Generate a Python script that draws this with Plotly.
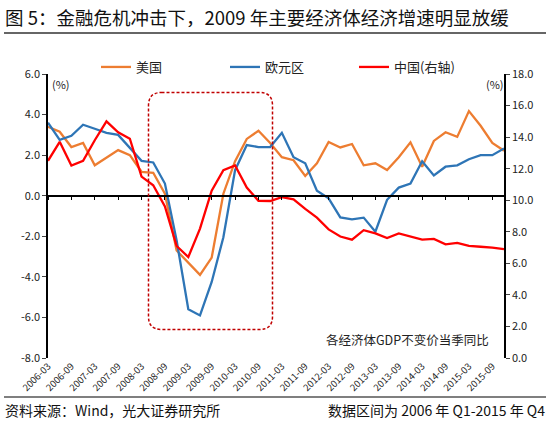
import plotly.graph_objects as go

quarters = [f"{y}-{m}" for y in range(2006, 2016) for m in ("03", "06", "09", "12")]

us = [3.4, 3.15, 2.4, 2.6, 1.5, 1.87, 2.25, 2.0, 1.18, 1.13, 0.1, -2.7, -3.3, -3.9,
      -3.05, 0.1, 1.7, 2.8, 3.2, 2.6, 1.9, 1.75, 0.97, 1.6, 2.65, 2.38, 2.55, 1.5,
      1.6, 1.27, 1.9, 2.63, 1.43, 2.7, 3.13, 2.9, 4.17, 3.45, 2.6, 2.22]
euro = [3.6, 2.75, 2.95, 3.5, 3.3, 3.1, 3.0, 2.35, 1.72, 1.64, 0.6, -2.2, -5.6, -5.9,
        -4.25, -2.05, 1.26, 2.5, 2.4, 2.4, 3.1, 1.9, 1.6, 0.25, -0.13, -1.07, -1.17,
        -1.08, -1.77, -0.2, 0.4, 0.6, 1.7, 1.0, 1.43, 1.5, 1.8, 2.0, 2.0, 2.33]
china = [12.5, 13.7, 12.2, 12.5, 13.8, 15.0, 14.3, 13.9, 11.5, 10.95, 9.6, 7.1, 6.4,
         8.2, 10.6, 11.9, 12.2, 10.8, 9.96, 9.95, 10.2, 10.05, 9.45, 8.9, 8.15, 7.7,
         7.5, 8.1, 7.9, 7.6, 7.9, 7.7, 7.5, 7.55, 7.2, 7.3, 7.1, 7.05, 7.0, 6.9]

left_ticks = [-8, -6, -4, -2, 0, 2, 4, 6]
left_ticktext = ["-8.0", "-6.0", "-4.0", "-2.0", "0.0", "2.0", "4.0", "6.0"]
right_ticks = [0, 2, 4, 6, 8, 10, 12, 14, 16, 18]
right_ticktext = ["0.0", "2.0", "4.0", "6.0", "8.0", "10.0", "12.0", "14.0", "16.0", "18.0"]

series_names = ["美国", "欧元区", "中国(右轴)"]
colors = ["#ED7D31", "#2E75B6", "#FF0000"]

W, H = 550, 421
L, R, T, B = 48, 46, 74, 63
PW, PH = W - L - R, H - T - B

def px(x):
    return (x - L) / PW

def py(y):
    return (H - B - y) / PH

idx = list(range(len(quarters)))
tickvals = idx[::2]
ticktext = quarters[::2]

FONT = "Noto Sans CJK SC, Liberation Sans, sans-serif"
LEFT_RANGE = [-8, 6]

fig = go.Figure()
fig.add_trace(go.Scatter(x=idx, y=us, name=series_names[0], mode="lines",
                         line=dict(color=colors[0], width=2.3)))
fig.add_trace(go.Scatter(x=idx, y=euro, name=series_names[1], mode="lines",
                         line=dict(color=colors[1], width=2.3)))
fig.add_trace(go.Scatter(x=idx, y=china, name=series_names[2], mode="lines",
                         xaxis="x2", yaxis="y2",
                         line=dict(color=colors[2], width=2.3)))

zero_pos = (0 - LEFT_RANGE[0]) / (LEFT_RANGE[1] - LEFT_RANGE[0])

fig.update_layout(
    width=W, height=H,
    margin=dict(l=L, r=R, t=T, b=B, autoexpand=False),
    paper_bgcolor="white", plot_bgcolor="white",
    font=dict(family=FONT, color="#000", size=11),
    showlegend=True,
    legend=dict(orientation="h", xref="paper", yref="paper",
                x=px(96), y=py(52), xanchor="left", yanchor="top",
                entrywidth=84, entrywidthmode="pixels",
                font=dict(size=13, family=FONT, color="#222"), bgcolor="rgba(0,0,0,0)",
                tracegroupgap=0, itemwidth=30),
    xaxis=dict(range=[0, 39], tickvals=tickvals, ticktext=ticktext, tickangle=-45,
               showline=False, ticks="", showgrid=False, zeroline=False,
               tickfont=dict(size=9.5, family=FONT, color="#222")),
    xaxis2=dict(range=[0, 39], overlaying="x", anchor="free", position=zero_pos,
                tickvals=tickvals, showticklabels=False, showline=True,
                linecolor="#000", linewidth=1.5, ticks="outside", ticklen=4,
                tickwidth=1.2, tickcolor="#000", showgrid=False, zeroline=False),
    yaxis=dict(range=LEFT_RANGE, tickvals=left_ticks, ticktext=left_ticktext,
               showline=True, linecolor="#000", linewidth=1.5, ticks="outside",
               ticklen=4, tickwidth=1.2, showgrid=False, zeroline=False,
               tickfont=dict(size=11, color="#222")),
    yaxis2=dict(range=[0, 18], tickvals=right_ticks, ticktext=right_ticktext,
                overlaying="y", side="right", anchor="x",
                showline=True, linecolor="#000", linewidth=1.5, ticks="outside",
                ticklen=4, tickwidth=1.2, showgrid=False, zeroline=False,
                tickfont=dict(size=11, color="#222")),
)

# rounded dashed box highlighting the crisis period
x0, x1, y0, y1 = px(148.5), px(272.5), py(329.5), py(92.5)
rx, ry = 13 / PW, 13 / PH
path = (f"M {x0 + rx},{y1} L {x1 - rx},{y1} Q {x1},{y1} {x1},{y1 - ry} "
        f"L {x1},{y0 + ry} Q {x1},{y0} {x1 - rx},{y0} L {x0 + rx},{y0} "
        f"Q {x0},{y0} {x0},{y0 + ry} L {x0},{y1 - ry} Q {x0},{y1} {x0 + rx},{y1} Z")
fig.add_shape(type="path", path=path, xref="paper", yref="paper",
              line=dict(color="#C00000", width=1.5, dash="3px,2px"))

# title rule and footer rule
fig.add_shape(type="line", xref="paper", yref="paper", x0=px(4), x1=px(546),
              y0=py(33), y1=py(33), line=dict(color="#333", width=1.5))
fig.add_shape(type="line", xref="paper", yref="paper", x0=px(4), x1=px(546),
              y0=py(397), y1=py(397), line=dict(color="#000", width=1.2))

ann = [
    dict(text="图 5：金融危机冲击下，2009 年主要经济体经济增速明显放缓", x=px(3), y=py(17),
         xanchor="left", yanchor="middle", font=dict(size=18.5, color="#111")),
    dict(text="(%)", x=px(61), y=py(84), xanchor="center", yanchor="middle",
         font=dict(size=11, color="#222")),
    dict(text="(%)", x=px(495), y=py(84), xanchor="center", yanchor="middle",
         font=dict(size=11, color="#222")),
    dict(text="各经济体GDP不变价当季同比", x=px(491), y=py(339), xanchor="right",
         yanchor="middle", font=dict(size=12.5, color="#222")),
    dict(text="资料来源：Wind，光大证券研究所", x=px(3), y=py(410), xanchor="left",
         yanchor="middle", font=dict(size=14, color="#111")),
    dict(text="数据区间为 2006 年 Q1-2015 年 Q4", x=px(547), y=py(410), xanchor="right",
         yanchor="middle", font=dict(size=14, color="#111")),
]
for a in ann:
    fig.add_annotation(xref="paper", yref="paper", showarrow=False,
                       font_family=FONT, **{k: v for k, v in a.items()})

fig.write_html("out.html")
